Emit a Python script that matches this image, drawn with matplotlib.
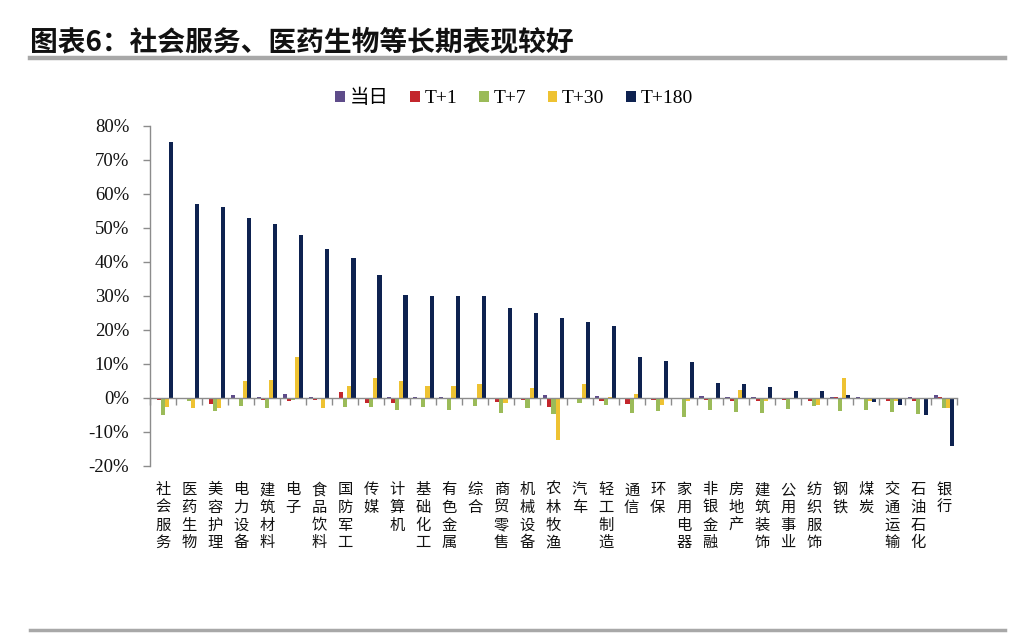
import matplotlib
matplotlib.use("Agg")
import matplotlib.pyplot as plt
import matplotlib.transforms as mtransforms
from matplotlib.ticker import FixedLocator, FuncFormatter
from matplotlib.lines import Line2D
import numpy as np

categories = ["社会服务", "医药生物", "美容护理", "电力设备", "建筑材料", "电子", "食品饮料",
              "国防军工", "传媒", "计算机", "基础化工", "有色金属", "综合", "商贸零售",
              "机械设备", "农林牧渔", "汽车", "轻工制造", "通信", "环保", "家用电器",
              "非银金融", "房地产", "建筑装饰", "公用事业", "纺织服饰", "钢铁", "煤炭",
              "交通运输", "石油石化", "银行"]

series_names = ["当日", "T+1", "T+7", "T+30", "T+180"]

day0 = [-0.3, -0.2, -0.2, 0.9, 0.3, 1.3, 0.2, 0.1, -0.2, 0.2, 0.2, 0.3, -0.4, -0.2,
        -0.2, 1.0, -0.2, 0.6, -0.2, -0.2, 0.1, 0.7, 0.2, 0.3, -0.1, -0.1, 0.3, 0.2,
        -0.2, 0.2, 1.0]
t1 = [-0.6, -0.4, -1.8, -0.2, -0.7, -1.0, -0.7, 1.7, -1.4, -1.6, -0.2, -0.2, -0.4, -1.3,
      -0.7, -2.7, -0.4, -0.8, -1.8, -0.6, -0.1, -0.7, -1.0, -0.8, -0.5, -0.8, 0.2, -0.3,
      -1.0, -1.0, 0.3]
t7 = [-5.1, -1.0, -3.7, -2.4, -3.0, -0.6, -0.3, -2.6, -2.5, -3.5, -2.7, -3.6, -2.3, -4.4,
      -2.9, -4.7, -1.5, -2.2, -4.3, -3.8, -5.6, -3.6, -4.2, -4.3, -3.2, -2.3, -3.8, -3.4,
      -4.1, -4.6, -2.9]
t30 = [-2.5, -3.0, -2.8, 4.9, 5.4, 12.0, -3.0, 3.4, 5.9, 5.0, 3.4, 3.6, 4.0, -1.6,
       3.0, -12.4, 4.0, 0.2, 1.2, -2.0, -1.0, -0.3, 2.5, -0.8, -0.3, -2.0, 5.8, -0.8,
       -1.0, -0.3, -2.8]
t180 = [75.3, 57.2, 56.3, 53.0, 51.1, 48.0, 43.8, 41.2, 36.1, 30.3, 30.1, 30.0, 29.9, 26.5,
        24.9, 23.5, 22.3, 21.3, 12.2, 10.8, 10.5, 4.4, 4.2, 3.2, 2.0, 2.0, 1.0, -1.2,
        -2.0, -4.9, -14.2]

y_ticks = [-20, -10, 0, 10, 20, 30, 40, 50, 60, 70, 80]
title_text = "图表6：社会服务、医药生物等长期表现较好"

colors = ["#5E4C8A", "#C3262C", "#9BBB59", "#EEC232", "#0E2250"]

CJK = "Noto Sans CJK SC"
SERIF = "Liberation Serif"

fig = plt.figure(figsize=(10.25, 6.34), dpi=100)
W, H = 1025, 634
ax = fig.add_axes([150 / W, 1 - 466 / H, (957 - 150) / W, (466 - 126) / H])

x = np.arange(len(categories))
bw = 0.158
all_series = [day0, t1, t7, t30, t180]
for k, (name, vals, c) in enumerate(zip(series_names, all_series, colors)):
    ax.bar(x + (k - 2) * bw, vals, width=bw, color=c, label=name, linewidth=0)

ax.set_xlim(-0.5, len(categories) - 0.5)
ax.set_ylim(-20, 80)

gray = "#8c8c8c"
for s in ["top", "right"]:
    ax.spines[s].set_visible(False)
ax.spines["left"].set_color(gray)
ax.spines["left"].set_linewidth(1.0)
ax.spines["bottom"].set_position(("data", 0))
ax.spines["bottom"].set_color(gray)
ax.spines["bottom"].set_linewidth(1.0)

ax.yaxis.set_major_locator(FixedLocator(y_ticks))
ax.yaxis.set_major_formatter(FuncFormatter(lambda v, p: f"{int(round(v))}%"))
ax.tick_params(axis="y", direction="out", length=5, color=gray, width=1.0,
               labelsize=13.5, pad=10)
for lab in ax.get_yticklabels():
    lab.set_fontfamily(SERIF)
    lab.set_color("#111111")

ax.xaxis.set_major_locator(FixedLocator([]))
ax.xaxis.set_minor_locator(FixedLocator(np.arange(-0.5, len(categories), 1.0)))
ax.tick_params(axis="x", which="minor", direction="out", length=5, color=gray, width=1.0,
               labelbottom=False)

trans = mtransforms.blended_transform_factory(ax.transData, ax.transAxes)
for i, name in enumerate(categories):
    ax.text(i, -0.045, "\n".join(name), transform=trans, ha="center", va="top",
            fontsize=11, family=CJK, linespacing=1.05, color="#111111")

leg = fig.legend(loc="center", bbox_to_anchor=(514 / W, 1 - 98 / H), ncol=5,
                 frameon=False, prop={"family": [SERIF, CJK], "size": 14},
                 handlelength=0.5, handleheight=0.5, handletextpad=0.25,
                 columnspacing=1.1)

fig.text(30 / W, 1 - 42 / H, title_text, ha="left", va="center", fontsize=20,
         family=CJK, fontweight="bold", color="#111111")
fig.add_artist(Line2D([30 / W, 1005 / W], [1 - 58 / H, 1 - 58 / H], color="#a8a8a8",
                      linewidth=3.2, transform=fig.transFigure))
fig.add_artist(Line2D([30 / W, 1005 / W], [1 - 630 / H, 1 - 630 / H], color="#a8a8a8",
                      linewidth=2.5, transform=fig.transFigure))

fig.savefig("out.png", dpi=100, facecolor="white")
